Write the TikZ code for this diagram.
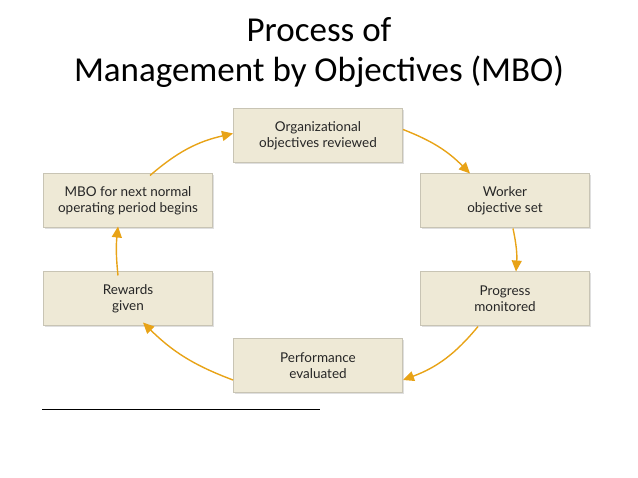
\documentclass[tikz,border=0pt]{standalone}
\usepackage{fontspec}
\setmainfont{Carlito}
\newfontfamily\boxfont{Lato}
\usetikzlibrary{arrows.meta,shadows}
\definecolor{boxfill}{HTML}{EEE9D6}
\definecolor{boxline}{HTML}{C8C4B4}
\definecolor{arr}{HTML}{E8A317}
\begin{document}
\begin{tikzpicture}[x=1pt,y=-1pt,
  box/.style={draw=boxline,line width=1pt,fill=boxfill,minimum width=169pt,minimum height=54pt,
    align=center,font=\boxfont\fontsize{13.5}{16}\selectfont,text=black!85,
    drop shadow={opacity=0.25,shadow xshift=1.5pt,shadow yshift=-1.5pt}},
  conn/.style={draw=arr,line width=1.4pt,-{Triangle[length=11pt,width=10pt]}}]
\useasboundingbox (0,0) rectangle (638,478);
\node[font=\fontsize{35}{40}\selectfont] (t1) at (319,30) {Process of};
\node[font=\fontsize{35}{40}\selectfont] (t2) at (319,72) {Management by Objectives (MBO)};
\node[box] (org) at (318,135.5) {Organizational\\objectives reviewed};
\node[box] (wor) at (505,201) {Worker\\objective set};
\node[box] (pro) at (505,299) {Progress\\monitored};
\node[box] (per) at (318,366) {Performance\\evaluated};
\node[box] (rew) at (128,299) {Rewards\\given};
\node[box] (mbo) at (128,201) {MBO for next normal\\operating period begins};
\draw[conn] (org.east) ++(0,-6) to[bend left=12] ([xshift=-35pt]wor.north);
\draw[conn] ([xshift=8pt]wor.south) to[bend left=8] ([xshift=11pt]pro.north);
\draw[conn] ([xshift=-27pt]pro.south) to[bend left=15] ([yshift=-14pt]per.east);
\draw[conn] ([yshift=-14pt]per.west) to[bend left=12] ([xshift=15pt,yshift=4pt]rew.south);
\draw[conn] ([xshift=-10pt,yshift=-4pt]rew.north) to[bend left=6] ([xshift=-10pt,yshift=2pt]mbo.south);
\draw[conn] ([xshift=22pt,yshift=-2pt]mbo.north) to[bend left=14] ([yshift=2pt]org.west);
\coordinate (l1) at (42,410); \coordinate (l2) at (320,410);
\draw[line width=1pt] (l1) -- (l2);
\end{tikzpicture}
\end{document}
